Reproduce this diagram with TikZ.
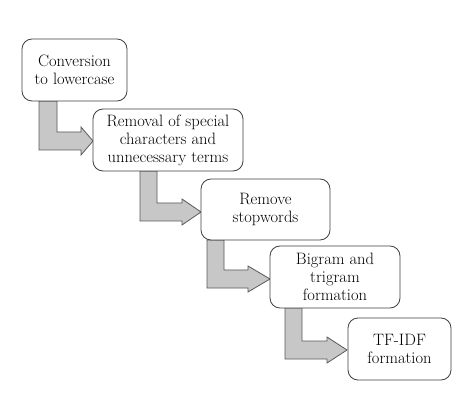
\documentclass[tikz,border=0pt]{standalone}
\begin{document}
\begin{tikzpicture}[x=1pt,y=-1pt,
  stepbox/.style={draw=black!75, line width=0.8pt, rounded corners=10pt, fill=white,
    align=center, inner sep=0pt, font=\fontsize{16.5}{18}\selectfont},
  arrowshape/.style={draw=black!65, line width=0.8pt, fill=black!22}]
\useasboundingbox (0,0) rectangle (474,414);
\fill[white] (0,0) rectangle (474,414);
% arrows
\draw[arrowshape] (39,101) -- (57,101) -- (57,132) -- (81,132) -- (81,127) -- (93,141) -- (81,155) -- (81,150) -- (39,150) -- cycle;
\draw[arrowshape] (140,171) -- (157,171) -- (157,203) -- (182,203) -- (182,199) -- (201,212) -- (182,225) -- (182,221) -- (140,221) -- cycle;
\draw[arrowshape] (207,240) -- (224,240) -- (224,270) -- (248,270) -- (248,266) -- (270,279) -- (248,292) -- (248,288) -- (207,288) -- cycle;
\draw[arrowshape] (285,308) -- (302,308) -- (302,341) -- (327,341) -- (327,337) -- (347,350) -- (327,363) -- (327,359) -- (285,359) -- cycle;
% boxes
\node[stepbox, minimum width=105pt, minimum height=62pt] (b1) at (74.5,70) {Conversion\\to lowercase};
\node[stepbox, minimum width=150pt, minimum height=62pt] (b2) at (168,140) {Removal of special\\characters and\\unnecessary terms};
\node[stepbox, minimum width=129pt, minimum height=61pt] (b3) at (265.5,209.5) {Remove\\stopwords};
\node[stepbox, minimum width=130pt, minimum height=62pt] (b4) at (335,277) {Bigram and\\trigram\\formation};
\node[stepbox, minimum width=103pt, minimum height=62pt] (b5) at (399.5,349) {TF-IDF\\formation};
\end{tikzpicture}
\end{document}
